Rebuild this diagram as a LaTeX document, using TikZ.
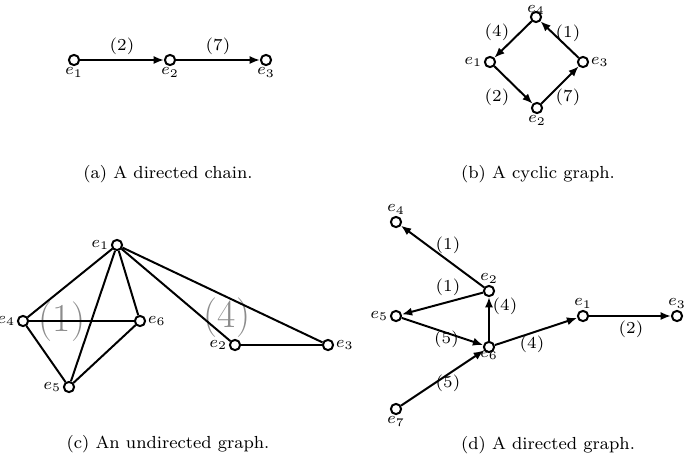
\documentclass[tikz,border=0pt]{standalone}
\usepackage{fontspec}
\usetikzlibrary{arrows.meta}
\begin{document}
\begin{tikzpicture}[x=0.429pt,y=-0.429pt,
  v/.style={circle,draw,line width=0.85pt,minimum size=4.4pt,inner sep=0pt,fill=white},
  nl/.style={font=\fontsize{7.5}{9}\selectfont,inner sep=0.5pt},
  elab/.style={font=\fontsize{7.2}{9}\selectfont,inner sep=0pt},
  arc/.style={line width=0.85pt,-{Latex[length=4.4pt,width=3.5pt]}},
  und/.style={line width=0.85pt},
  captext/.style={font=\fontsize{7.5}{9}\selectfont,inner sep=0pt},
  big/.style={font=\fontsize{17}{20}\selectfont,text=black!45,inner sep=0pt}]
\useasboundingbox (0,0) rectangle (685,458);
% (a)
\node[v,label={[nl]below:$e_1$}] (a1) at (74,60) {};
\node[v,label={[nl]below:$e_2$}] (a2) at (170,60) {};
\node[v,label={[nl]below:$e_3$}] (a3) at (266,60) {};
\draw[arc] (a1) -- node[elab,midway,shift={(0,-14)}] {(2)} (a2);
\draw[arc] (a2) -- node[elab,midway,shift={(0,-14)}] {(7)} (a3);
\node[captext] (capa) at (168,174) {(a) A directed chain.};
% (b)
\node[v,label={[nl,label distance=-2.3pt]above:$e_4$}] (b4) at (536,17) {};
\node[v,label={[nl]left:$e_1$}] (b1) at (490,62) {};
\node[v,label={[nl]right:$e_3$}] (b3) at (583,62) {};
\node[v,label={[nl]below:$e_2$}] (b2) at (537,108) {};
\draw[arc] (b4) -- node[elab,midway,shift={(-16,-7)}] {(4)} (b1);
\draw[arc] (b3) -- node[elab,midway,shift={(8.5,-6)}] {(1)} (b4);
\draw[arc] (b1) -- node[elab,midway,shift={(-16.5,12)}] {(2)} (b2);
\draw[arc] (b2) -- node[elab,midway,shift={(8,12.5)}] {(7)} (b3);
\node[captext] (capb) at (538,174) {(b) A cyclic graph.};
% (c)
\node[big] (one) at (62,322) {(1)};
\node[big] (four) at (227,318) {(4)};
\node[v,label={[nl]left:$e_1$}] (c1) at (117,245) {};
\node[v,label={[nl]left:$e_4$}] (c4) at (23,321) {};
\node[v,label={[nl]right:$e_6$}] (c6) at (140,321) {};
\node[v,label={[nl]left:$e_5$}] (c5) at (69,387) {};
\node[v,label={[nl]left:$e_2$}] (c2) at (235,345) {};
\node[v,label={[nl]right:$e_3$}] (c3) at (328,345) {};
\draw[und] (c1) -- (c4);
\draw[und] (c1) -- (c5);
\draw[und] (c1) -- (c6);
\draw[und] (c1) -- (c2);
\draw[und] (c1) -- (c3);
\draw[und] (c4) -- (c6);
\draw[und] (c4) -- (c5);
\draw[und] (c5) -- (c6);
\draw[und] (c2) -- (c3);
\node[captext] (capc) at (168,444) {(c) An undirected graph.};
% (d)
\node[v,label={[nl]above:$e_4$}] (d4) at (396,222) {};
\node[v,label={[nl]above:$e_2$}] (d2) at (489,291) {};
\node[v,label={[nl]left:$e_5$}] (d5) at (396,316) {};
\node[v,label={[nl,label distance=-2pt]below:$e_6$}] (d6) at (489,347) {};
\node[v,label={[nl]above:$e_1$}] (d1) at (583,316) {};
\node[v,label={[nl]above:$e_3$}] (d3) at (677,316) {};
\node[v,label={[nl]below:$e_7$}] (d7) at (396,409) {};
\draw[arc] (d2) -- node[elab,midway,shift={(5.5,-11.5)}] {(1)} (d4);
\draw[arc] (d2) -- node[elab,midway,shift={(5.5,-16.5)}] {(1)} (d5);
\draw[arc] (d5) -- node[elab,midway,shift={(4,8)}] {(5)} (d6);
\draw[arc] (d7) -- node[elab,midway,shift={(5.5,5)}] {(5)} (d6);
\draw[arc] (d6) -- node[elab,midway,shift={(16,-13)}] {(4)} (d2);
\draw[arc] (d6) -- node[elab,midway,shift={(-4,12.5)}] {(4)} (d1);
\draw[arc] (d1) -- node[elab,midway,shift={(1,13)}] {(2)} (d3);
\node[captext] (capd) at (548,445) {(d) A directed graph.};
\end{tikzpicture}
\end{document}
